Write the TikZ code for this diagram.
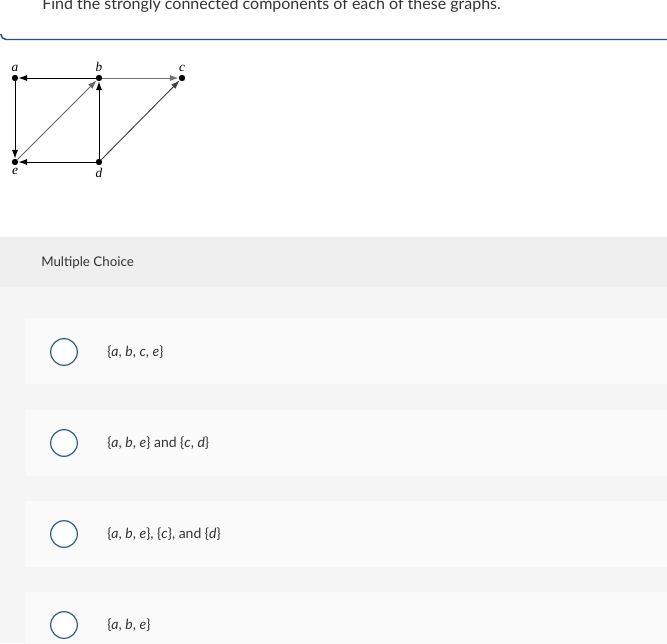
\documentclass[tikz,border=0pt]{standalone}
\usepackage{fontspec}
\setmainfont{Lato}
\newfontfamily\graphfont{Liberation Serif}
\usepackage{xcolor}
\usetikzlibrary{arrows.meta, positioning}

\definecolor{txtgray}{HTML}{333333}
\definecolor{cardline}{HTML}{24528A}
\definecolor{radioblue}{HTML}{2E5E8E}
\definecolor{bandgray}{HTML}{EFEFEF}
\definecolor{pagegray}{HTML}{F5F5F5}
\definecolor{boxgray}{HTML}{FAFAFA}

\tikzset{
  vtx/.style={circle, fill=black, inner sep=0pt, minimum size=4.8pt},
  vlabel/.style={font=\graphfont\itshape\fontsize{10}{10}\selectfont, inner sep=0.5pt},
  arc/.style={-{Latex[length=6.5pt,width=4.6pt]}, line width=0.7pt},
  radio/.style={circle, draw=radioblue, line width=0.9pt, fill=white, minimum size=20pt, inner sep=0pt},
  choice/.style={anchor=west, text=txtgray, font=\fontsize{10.5}{12}\selectfont, inner sep=0pt},
  choicebox/.style={fill=boxgray, draw=none}
}

\begin{document}
\begin{tikzpicture}[x=0.75pt, y=-0.75pt]
  \useasboundingbox (0,0) rectangle (667,643);

  % Backgrounds
  \fill[white] (0,0) rectangle (667,237);
  \fill[bandgray] (0,237) rectangle (667,287);
  \fill[pagegray] (0,287) rectangle (667,643);

  % Question card
  \node[anchor=base west, text=txtgray, font=\fontsize{12}{14}\selectfont, inner sep=0pt] (question) at (42,9)
    {Find the strongly connected components of each of these graphs.};
  \draw[cardline, line width=1.1pt] (0.8,34) to[out=-90, in=180] (6,39.5) -- (667,39.5);

  % Graph vertices
  \node[vtx] (a) at (15,78) {};
  \node[vtx] (b) at (99,78) {};
  \node[vtx] (c) at (182,78) {};
  \node[vtx] (e) at (15,162) {};
  \node[vtx] (d) at (99,162) {};

  \node[vlabel, above=1.5pt of a] (la) {a};
  \node[vlabel, above=1.5pt of b] (lb) {b};
  \node[vlabel, above=1.5pt of c] (lc) {c};
  \node[vlabel, below=1.5pt of e] (le) {e};
  \node[vlabel, below=1.5pt of d] (ld) {d};

  % Graph edges
  \draw[arc] (b) -- (a);
  \draw[arc] (a) -- (e);
  \draw[arc, black!60] (e) -- (b);
  \draw[arc] (d) -- (b);
  \draw[arc] (d) -- (e);
  \draw[arc, black!55] (b) -- (c);
  \draw[arc, black!75] (d) -- (c);

  % Multiple choice
  \node[anchor=west, text=txtgray, font=\fontsize{10}{12}\selectfont, inner sep=0pt] (mc) at (41,263) {Multiple Choice};

  \fill[choicebox] (25,318) rectangle (667,384);
  \fill[choicebox] (25,410) rectangle (667,476);
  \fill[choicebox] (25,501) rectangle (667,567);
  \fill[choicebox] (25,592) rectangle (667,658);

  \node[radio] (r1) at (64,352) {};
  \node[radio] (r2) at (64,443) {};
  \node[radio] (r3) at (64,534) {};
  \node[radio] (r4) at (64,625) {};

  \node[choice] (o1) at (107,352) {\{\textit{a}, \textit{b}, \textit{c}, \textit{e}\}};
  \node[choice] (o2) at (107,443) {\{\textit{a}, \textit{b}, \textit{e}\} and \{\textit{c}, \textit{d}\}};
  \node[choice] (o3) at (107,534) {\{\textit{a}, \textit{b}, \textit{e}\}, \{\textit{c}\}, and \{\textit{d}\}};
  \node[choice] (o4) at (107,625) {\{\textit{a}, \textit{b}, \textit{e}\}};

\end{tikzpicture}
\end{document}
